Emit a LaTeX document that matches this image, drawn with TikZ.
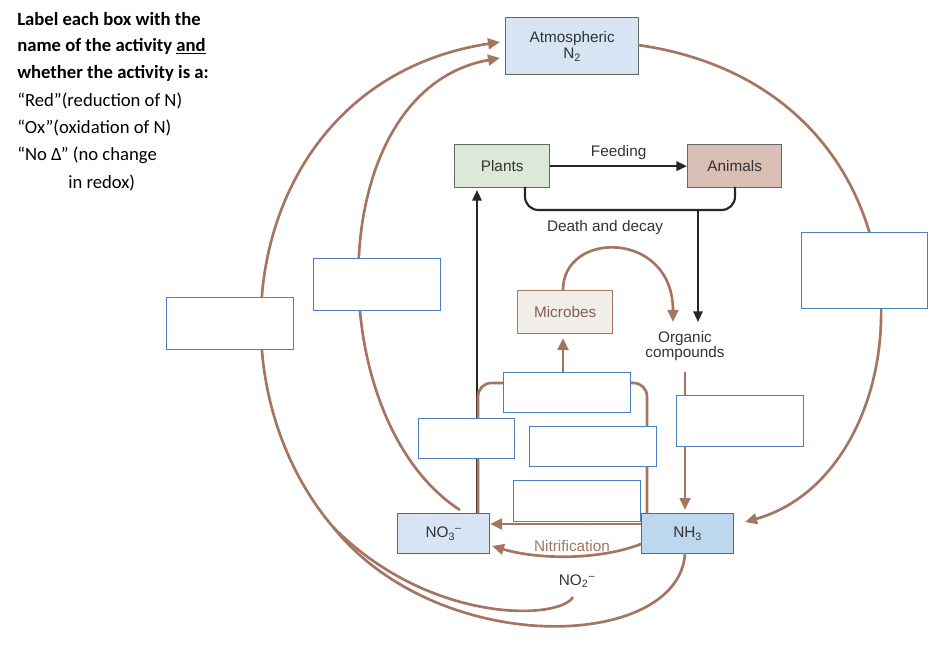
\documentclass[tikz,border=0pt]{standalone}
\usepackage{fontspec}
\setmainfont{Liberation Sans}
\newfontfamily\instfont{Carlito}
\usetikzlibrary{arrows.meta}
\definecolor{br}{HTML}{A47561}
\definecolor{bx}{HTML}{4A7FC1}
\definecolor{lb}{HTML}{D6E4F4}
\definecolor{db}{HTML}{BDD7EF}
\definecolor{gr}{HTML}{DDE9D8}
\definecolor{an}{HTML}{D9BFB6}
\definecolor{mi}{HTML}{F2EFEB}
\definecolor{tx}{HTML}{333333}
\newcommand{\mysub}[1]{\textsubscript{#1}}
\begin{document}
\begin{tikzpicture}[x=0.75pt,y=-0.75pt,
 box/.style={draw=gray!80!black,line width=1pt,inner sep=0pt,anchor=north west,font=\fontsize{11.5}{12.5}\selectfont,text=tx},
 blank/.style={draw=bx,line width=0.7pt,fill=white},
 bl/.style={line width=1.6pt,draw=black!85,-{Triangle[length=8pt,width=7pt]}},
 bw/.style={line width=2pt,draw=br,-{Triangle[length=9pt,width=8pt]}},
 bwn/.style={line width=2pt,draw=br},
 lab/.style={font=\fontsize{11.5}{12.5}\selectfont,text=tx,align=center},
 inst/.style={anchor=west,font=\instfont\fontsize{14}{16}\selectfont,inner sep=0pt}]
\useasboundingbox (0,0) rectangle (946,652);
% boxes
\node[box,fill=lb,minimum width=133*0.75pt,minimum height=57*0.75pt,align=center] (n2) at (505,17) {Atmospheric\\N\mysub{2}};
\node[box,fill=gr,minimum width=95*0.75pt,minimum height=43*0.75pt] (pl) at (454,144) {Plants};
\node[box,fill=an,minimum width=94*0.75pt,minimum height=43*0.75pt] (an) at (687,144) {Animals};
\node[box,draw=br,fill=mi,text=br!80!black,minimum width=95*0.75pt,minimum height=43*0.75pt] (mi) at (517,290) {Microbes};
\node[box,fill=lb,minimum width=92*0.75pt,minimum height=40*0.75pt] (no3) at (397,513) {NO\mysub{3}\textsuperscript{–}};
\node[box,fill=db,minimum width=92*0.75pt,minimum height=40*0.75pt] (nh3) at (641,513) {NH\mysub{3}};
\node[lab] (org) at (685,346) {Organic\\[-1pt]compounds};
\node[lab] (no2) at (577,581) {NO\mysub{2}\textsuperscript{–}};
\coordinate (j) at (698,210);
% black arrows
\draw[bl] (pl.east) -- node[lab,above=1pt]{Feeding} (an.west);
\draw[line width=1.6pt,black!85,rounded corners=10pt] (525,187) -- (525,210) -- (j) -- (735,210) -- (735,187);
\draw[bl] (j) -- (698,322);
\node[lab] (dd) at (605,228) {Death and decay};
\draw[bl] (477,513) -- (477,190);
% brown
\draw[bw] (563,290) .. controls (563,230) and (673,230) .. (673,322);
\draw[bwn,rounded corners=10pt] (478,513) -- (478,383) -- (647,383) -- (647,513);
\draw[bw] (563,383) -- (563,338);
\draw[bw] (685,372) -- (685,510);
\draw[bw] (641,524) -- (490,524);
\draw[bw] (641,544) .. controls (600,560) and (540,560) .. (492,546);
\node[lab,text=br] (nit) at (572,546) {Nitrification};
\draw[bw] (333,527) .. controls (200,370) and (250,80) .. (500,42);
\draw[bw] (460,510) .. controls (320,420) and (320,90) .. (500,58);
\draw[bw] (638,45) .. controls (950,90) and (930,470) .. (745,522);
\draw[bwn] (573,597) .. controls (560,620) and (430,625) .. (333,527);
\draw[bwn] (685,553) .. controls (680,650) and (440,660) .. (333,527);
% blanks
\foreach \a/\b/\c/\d in {313/258/440/310,166/297/293/349,801/232/927/308,503/372/630/412,418/418/514/458,529/426/656/466,513/480/640/521,676/395/803/446}
 \draw[blank] (\a,\b) rectangle (\c,\d);
% instructions
\node[inst,font=\instfont\bfseries\fontsize{14}{16}\selectfont] (t1) at (17,19) {Label each box with the};
\node[inst,font=\instfont\bfseries\fontsize{14}{16}\selectfont] (t2) at (17,46) {name of the activity \underline{and}};
\node[inst,font=\instfont\bfseries\fontsize{14}{16}\selectfont] (t3) at (17,73) {whether the activity is a:};
\node[inst] (t4) at (17,101) {“Red”(reduction of N)};
\node[inst] (t5) at (17,128) {“Ox”(oxidation of N)};
\node[inst] (t6) at (17,155) {“No Δ” (no change};
\node[inst] (t7) at (68,183) {in redox)};
\end{tikzpicture}
\end{document}
